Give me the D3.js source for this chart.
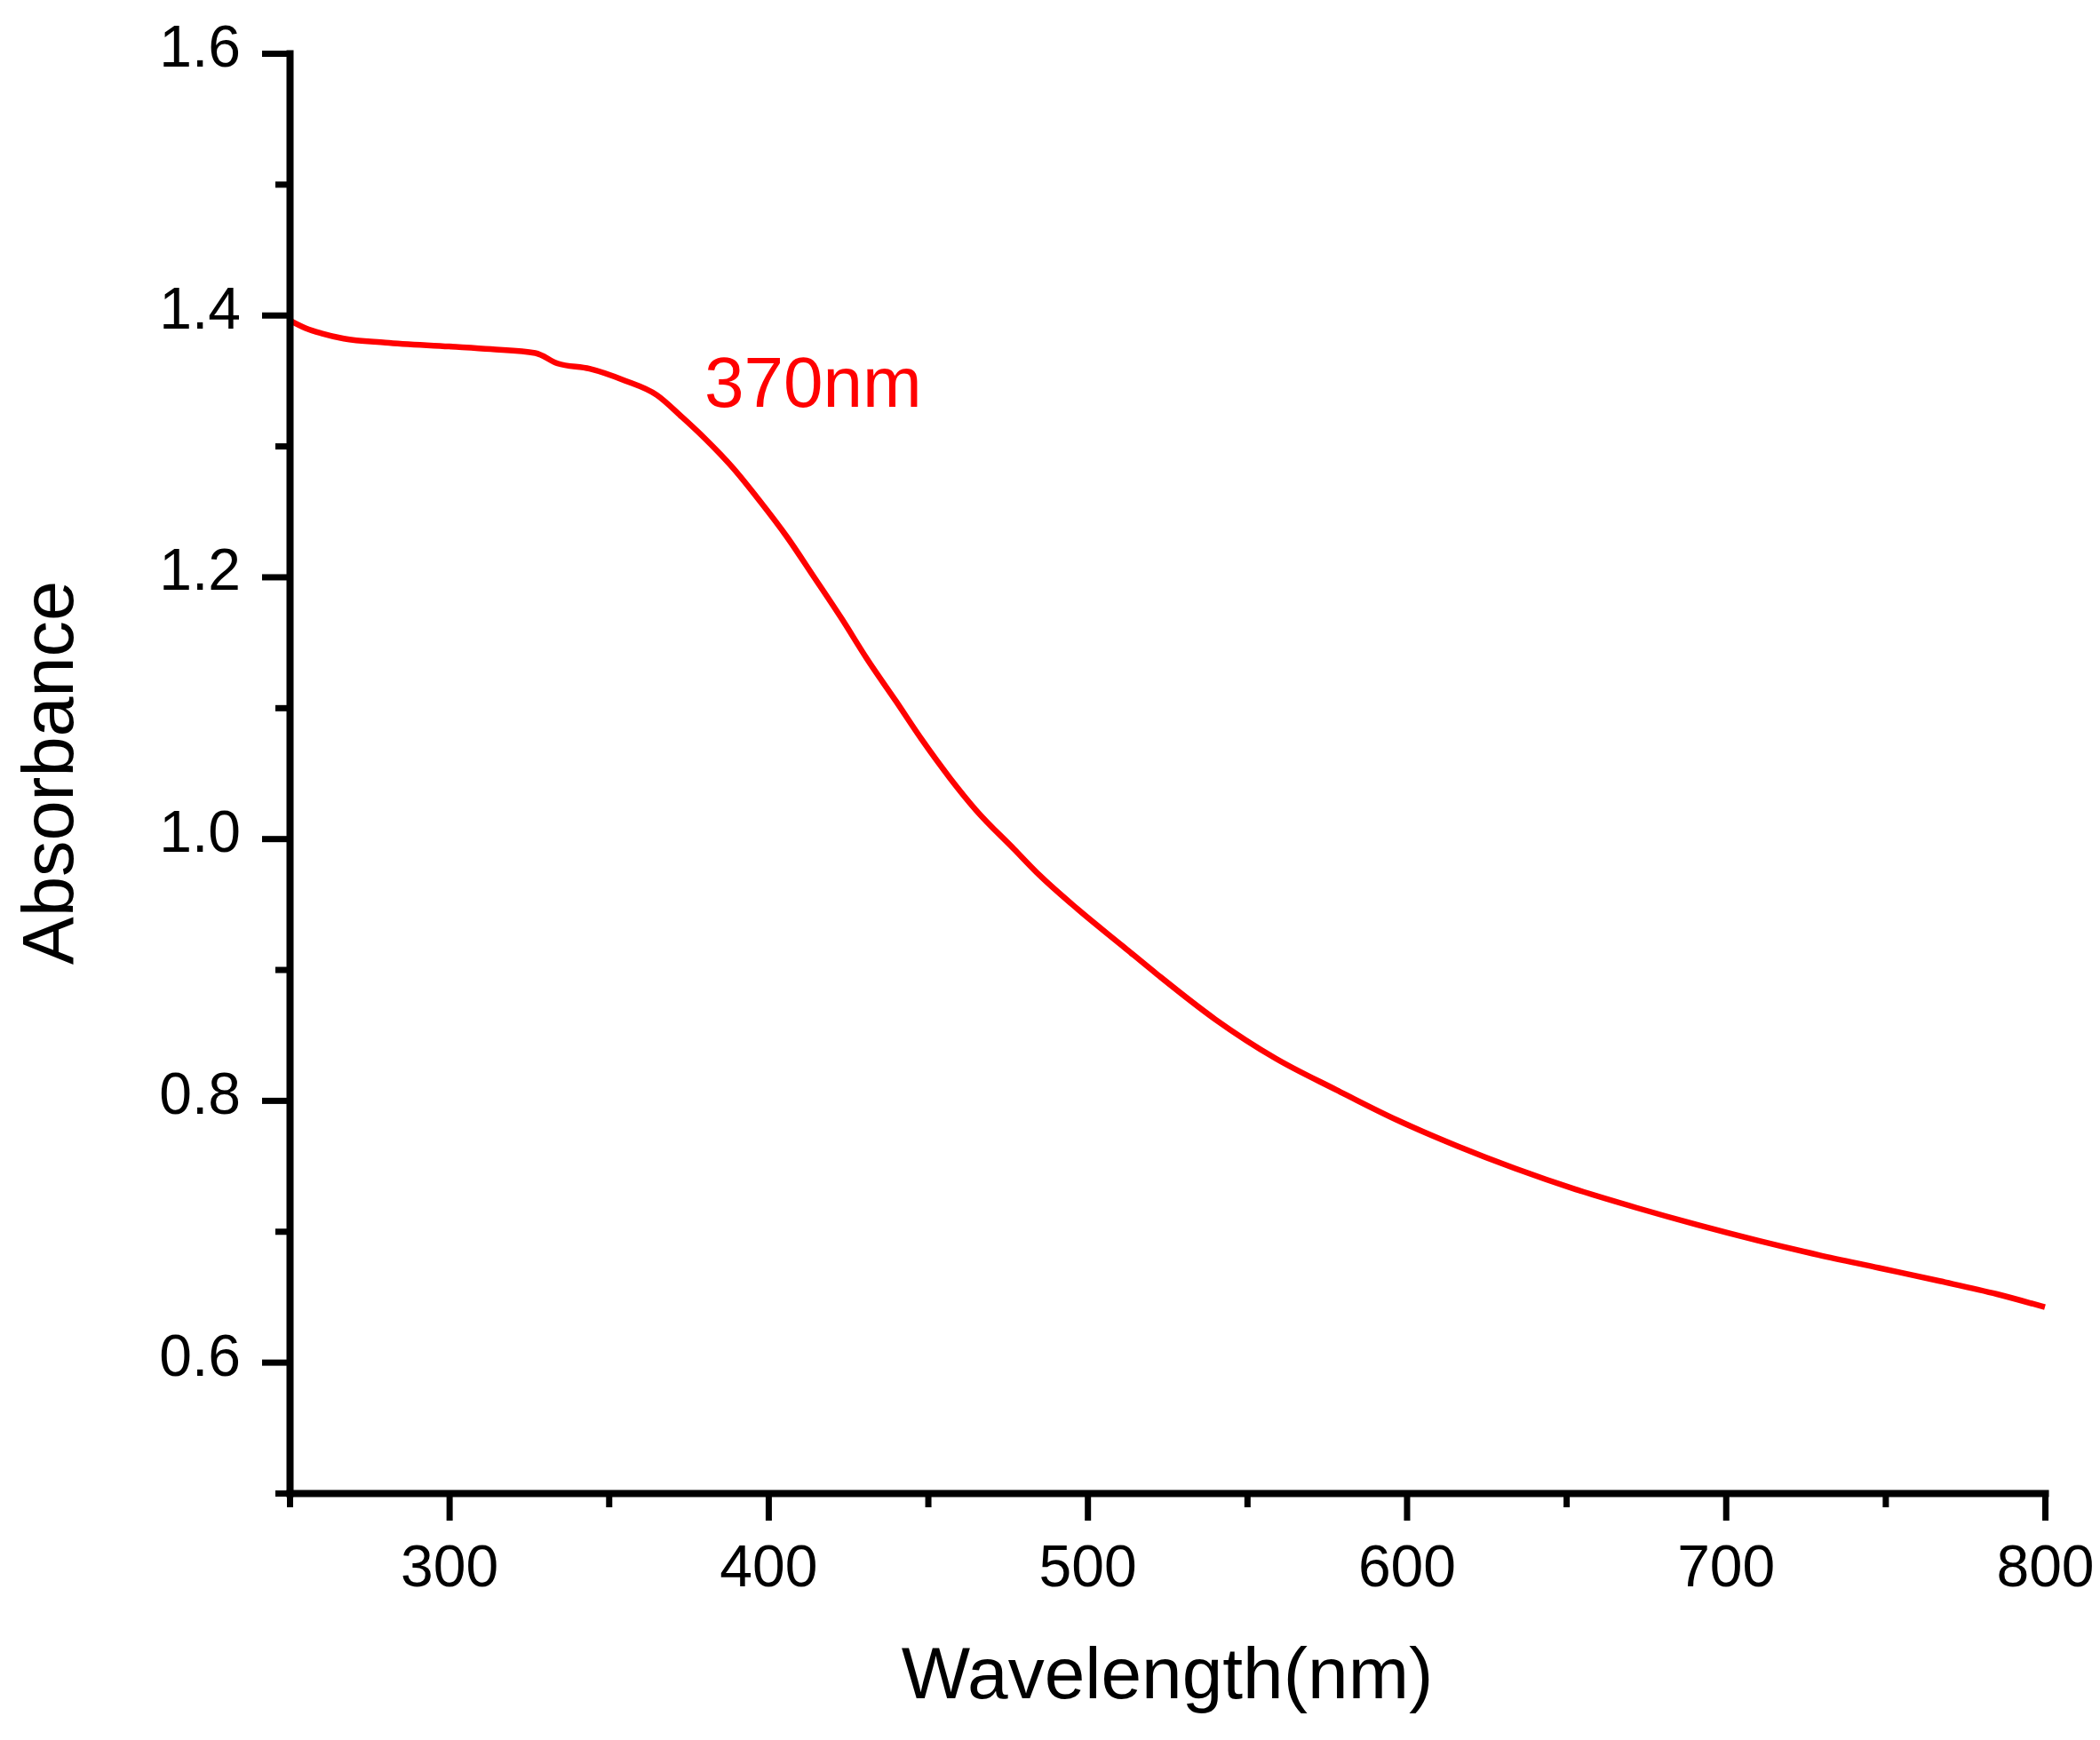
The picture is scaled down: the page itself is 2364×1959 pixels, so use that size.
<!DOCTYPE html>
<html>
<head>
<meta charset="utf-8">
<script src="https://cdn.jsdelivr.net/npm/d3@7"></script>
<style>
  body { margin: 0; background: #fff; }
  text { font-family: "Liberation Sans", Arial, sans-serif; }
</style>
</head>
<body>
<div id="chart"></div>
<script>
// values
var wavelength = [250, 255, 260, 267, 280, 300, 313, 327, 334, 344, 355, 365, 373, 380,
    389, 397, 406, 414, 423, 431, 440, 448, 457, 465, 477, 485, 497, 511, 522,
    540, 559, 578, 597, 616, 634, 653, 672, 691, 710, 729, 748, 767, 785, 800];
var absorbance = [1.396, 1.390, 1.386, 1.382, 1.379, 1.376, 1.374, 1.371, 1.363, 1.359, 1.350, 1.339, 1.322, 1.306,
    1.283, 1.259, 1.230, 1.201, 1.168, 1.137, 1.105, 1.076, 1.046, 1.022, 0.992, 0.972, 0.946, 0.918, 0.896,
    0.862, 0.832, 0.808, 0.785, 0.765, 0.748, 0.732, 0.718, 0.705, 0.693, 0.682, 0.672, 0.662, 0.652, 0.642];

var xMajor = [300, 400, 500, 600, 700, 800];
var xMinor = [250, 350, 450, 550, 650, 750];
var yMajor = [0.6, 0.8, 1.0, 1.2, 1.4, 1.6];
var yMinor = [0.5, 0.7, 0.9, 1.1, 1.3, 1.5];
var peakLabel = {text: "370nm", x: 380, y: 1.33};

var W = 2364, H = 1959;
var margin = {top: 60, right: 62, bottom: 278, left: 326},
    width = W - margin.left - margin.right,
    height = H - margin.top - margin.bottom;

var svg = d3.select("#chart").append("svg")
    .attr("width", W)
    .attr("height", H)
    .append("g")
    .attr("transform", "translate(" + margin.left + "," + margin.top + ")");

var x = d3.scaleLinear().domain([250, 800]).range([0, width]);
var y = d3.scaleLinear().domain([0.5, 1.6]).range([height, 0]);

var data = wavelength.map(function(w, i) { return {w: w, a: absorbance[i]}; });

var line = d3.line()
    .x(d => x(d.w))
    .y(d => y(d.a))
    .curve(d3.curveMonotoneX);

svg.append("path")
    .datum(data)
    .attr("d", line)
    .attr("fill", "none")
    .attr("stroke", "#ff0000")
    .attr("stroke-width", 6.5)
    .attr("stroke-linejoin", "round");

// minor ticks first, then major axes on top
svg.append("g")
    .attr("class", "x minor")
    .attr("transform", "translate(0," + height + ")")
    .call(d3.axisBottom(x).tickValues(xMinor).tickSize(16).tickFormat(""));

svg.append("g")
    .attr("class", "y minor")
    .call(d3.axisLeft(y).tickValues(yMinor).tickSize(16).tickFormat(""));

svg.append("g")
    .attr("class", "x axis")
    .attr("transform", "translate(0," + height + ")")
    .call(d3.axisBottom(x).tickValues(xMajor).tickSize(31).tickSizeOuter(0).tickPadding(27).tickFormat(d3.format("d")));

svg.append("g")
    .attr("class", "y axis")
    .call(d3.axisLeft(y).tickValues(yMajor).tickSize(31).tickSizeOuter(0).tickPadding(24).tickFormat(d3.format(".1f")));

svg.selectAll(".minor .domain").remove();
svg.selectAll(".domain").attr("stroke", "#000").attr("stroke-width", 8).attr("stroke-linecap", "square");
svg.selectAll(".tick line").attr("stroke", "#000").attr("stroke-width", 7);
svg.selectAll(".axis .tick text")
    .attr("fill", "#000")
    .style("font-size", "66px");
svg.selectAll(".y.axis .tick text").attr("dy", "0.22em");

svg.append("text")
    .attr("x", width / 2)
    .attr("y", 1912 - margin.top)
    .attr("text-anchor", "middle")
    .style("font-size", "82px")
    .text("Wavelength(nm)");

svg.append("text")
    .attr("transform", "translate(" + (82 - margin.left) + "," + (870 - margin.top) + ") rotate(-90)")
    .attr("text-anchor", "middle")
    .style("font-size", "81px")
    .text("Absorbance");

svg.append("text")
    .attr("x", x(peakLabel.x))
    .attr("y", y(peakLabel.y))
    .attr("fill", "#ff0000")
    .style("font-size", "80px")
    .text(peakLabel.text);
</script>
</body>
</html>
